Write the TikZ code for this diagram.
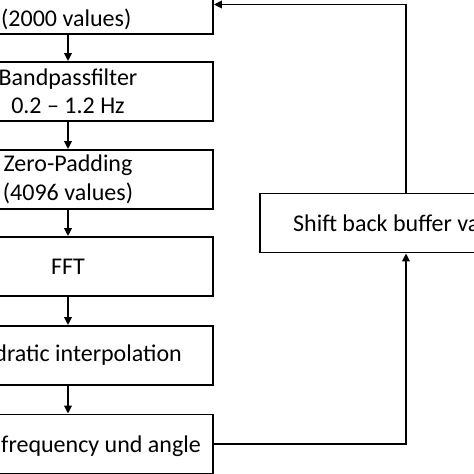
\documentclass[tikz,border=0pt]{standalone}
\usepackage{fontspec}
\setmainfont{Carlito}
\usetikzlibrary{arrows.meta}
\begin{document}
\begin{tikzpicture}[x=1pt,y=1pt,
  box/.style={draw, line width=1.8pt, minimum width=290pt, minimum height=59pt, inner sep=0pt, align=center, font=\fontsize{24}{28.5}\selectfont},
  lbl/.style={inner sep=0pt, font=\fontsize{24}{28.5}\selectfont},
  conn/.style={line width=1.8pt, -{Triangle[length=8pt,width=7.5pt]}}]
\clip (0,0) rectangle (474,474);
\fill[white] (0,0) rectangle (474,474);
% left column (y measured from top: Y = 474 - y)
\node[box] (b1) at (68,469.5) {};
\node[lbl, anchor=base west] (t1) at (1,447) {(2000 values)};
\node[box] (b2) at (68,382.5) {Bandpassfilter\\0.2 -- 1.2 Hz};
\node[box] (b3) at (68,294.5) {Zero-Padding\\(4096 values)};
\node[box] (b4) at (68,207.5) {FFT};
\node[box] (b5) at (68,118.5) {Quadratic interpolation};
\node[box] (b6) at (68,30) {};
\node[lbl, anchor=base west] (t6) at (1,21.5) {frequency und angle};
% right box
\node[box, minimum width=292pt] (sb) at (406,251) {Shift back buffer values};
% connectors
\draw[conn] (b1) -- (b2);
\draw[conn] (b2) -- (b3);
\draw[conn] (b3) -- (b4);
\draw[conn] (b4) -- (b5);
\draw[conn] (b5) -- (b6);
\draw[conn] (b6.east) -| (sb.south);
\draw[conn] (sb.north) |- (b1.east);
\end{tikzpicture}
\end{document}
